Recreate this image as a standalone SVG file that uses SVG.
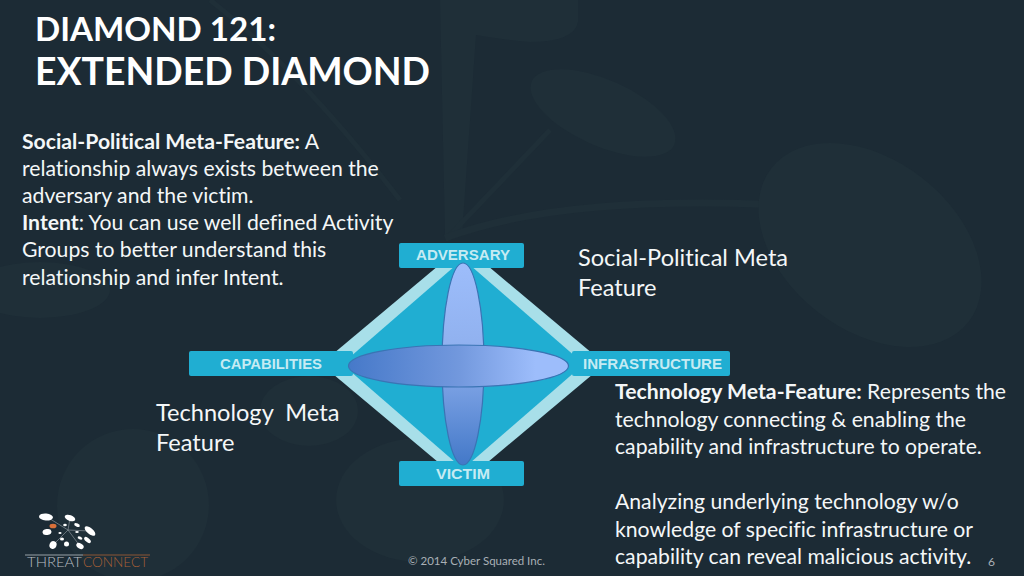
<svg xmlns="http://www.w3.org/2000/svg" width="1024" height="576" viewBox="0 0 1024 576">
<style>
.t{font-family:Lato,"Liberation Sans",sans-serif;font-size:21.2px;fill:#f4f7f8;font-variant-ligatures:none;white-space:pre}
.m{font-size:23.6px}
.b{font-weight:700}
.h{font-family:Lato,"Liberation Sans",sans-serif;font-weight:700;fill:#fff}
.box{fill:#20aed2}
.l{font-family:"Liberation Sans",Arial,sans-serif;font-size:15.5px;fill:#c6ebf3;font-weight:700}
.p{fill:#1f2f38}
.s{fill:none;stroke:#1f2f38}
.e{stroke:#3a74b4;stroke-width:1.2}
</style>
<defs>
<linearGradient id="gv" x1="0" y1="0" x2="0" y2="1"><stop offset="0" stop-color="#9dbdfb"/><stop offset=".45" stop-color="#8fb0ee"/><stop offset="1" stop-color="#4378c8"/></linearGradient>
<linearGradient id="gh" x1="0" y1="0" x2="1" y2="0"><stop offset="0" stop-color="#4679c9"/><stop offset=".5" stop-color="#7298dd"/><stop offset=".85" stop-color="#9dbdfb"/><stop offset="1" stop-color="#9dbdfb"/></linearGradient>
</defs>
<rect id="background" width="1024" height="576" fill="#1c2b35"/>
<g id="bg-petals">
<path class="p" d="M440 0H578V22Q574 42 530 42Q490 38 476 35L462 235H445Z"/>
<ellipse class="p" cx="603" cy="113" rx="78" ry="33" transform="rotate(24 603 113)"/>
<path class="s" d="M450 235L550 130" stroke-width="5"/>
<path class="s" d="M445 238Q560 195 780 205" stroke-width="7"/>
<ellipse class="p" cx="870" cy="245" rx="125" ry="85" transform="rotate(38 870 245)"/>
<ellipse class="p" cx="133" cy="505" rx="76" ry="76"/>
<ellipse class="p" cx="309" cy="411" rx="49" ry="35"/>
<ellipse class="p" cx="420" cy="500" rx="84" ry="62"/>
<ellipse class="p" cx="40" cy="290" rx="70" ry="28"/>
<path class="s" d="M210 0Q300 70 400 200" stroke-width="5"/>
</g>
<g id="title">
<text class="h" x="35" y="41" font-size="33" textLength="241" lengthAdjust="spacingAndGlyphs">DIAMOND 121:</text>
<text class="h" x="35" y="85" font-size="39" textLength="395" lengthAdjust="spacingAndGlyphs">EXTENDED DIAMOND</text>
</g>
<g id="connectors">
<polygon points="463,245 321,364 463,483 605,364" fill="#a8dfe9"/>
<polygon points="463,259 342,364 463,469 584,364" fill="#20aed2"/>
</g>
<g id="adversary"><rect class="box" x="399" y="243" width="125" height="25" rx="2"/><text class="l" x="416" y="260" textLength="94" lengthAdjust="spacingAndGlyphs">ADVERSARY</text></g>
<g id="capabilities"><rect class="box" x="189" y="351" width="164" height="25" rx="2"/><text class="l" x="220" y="369" textLength="102" lengthAdjust="spacingAndGlyphs">CAPABILITIES</text></g>
<g id="infrastructure"><rect class="box" x="572" y="351" width="158" height="25" rx="2"/><text class="l" x="583" y="369" textLength="139" lengthAdjust="spacingAndGlyphs">INFRASTRUCTURE</text></g>
<g id="victim"><rect class="box" x="399" y="461" width="125" height="25" rx="2"/><text class="l" x="436" y="479" textLength="54" lengthAdjust="spacingAndGlyphs">VICTIM</text></g>
<g id="social-political-ellipse"><ellipse class="e" cx="463" cy="364" rx="21" ry="101" fill="url(#gv)"/></g>
<g id="technology-ellipse"><ellipse class="e" cx="458.500" cy="366" rx="110" ry="21" fill="url(#gh)"/></g>
<g id="left-text">
<text class="t" x="22" y="149"><tspan class="b">Social-Political Meta-Feature:</tspan> A</text>
<text class="t" x="22" y="176">relationship always exists between the</text>
<text class="t" x="22" y="203">adversary and the victim.</text>
<text class="t" x="22" y="230"><tspan class="b">Intent</tspan>: You can use well defined Activity</text>
<text class="t" x="22" y="257">Groups to better understand this</text>
<text class="t" x="22" y="285">relationship and infer Intent.</text>
</g>
<g id="social-label">
<text class="t m" x="578" y="266">Social-Political Meta</text>
<text class="t m" x="578" y="296">Feature</text>
</g>
<g id="technology-label">
<text class="t m" x="156" y="421">Technology  Meta</text>
<text class="t m" x="156" y="451">Feature</text>
</g>
<g id="right-text">
<text class="t" x="615" y="399"><tspan class="b">Technology Meta-Feature:</tspan> Represents the</text>
<text class="t" x="615" y="427">technology connecting &amp; enabling the</text>
<text class="t" x="615" y="454">capability and infrastructure to operate.</text>
<text class="t" x="615" y="509">Analyzing underlying technology w/o</text>
<text class="t" x="615" y="537">knowledge of specific infrastructure or</text>
<text class="t" x="615" y="564">capability can reveal malicious activity.</text>
</g>
<g id="logo">
<g stroke="#8a9299" stroke-width=".7"><line x1="68" y1="530" x2="47" y2="517"/><line x1="68" y1="530" x2="90" y2="531"/><line x1="68" y1="530" x2="53" y2="545"/><line x1="68" y1="530" x2="80" y2="546"/><line x1="68" y1="530" x2="70" y2="518"/></g>
<g fill="#fff">
<ellipse cx="46" cy="517" rx="7" ry="3.500" transform="rotate(5 46 517)"/>
<ellipse cx="70" cy="518" rx="5.500" ry="2.800" transform="rotate(20 70 518)"/>
<ellipse cx="77" cy="525" rx="3" ry="1.700" transform="rotate(25 77 525)"/>
<ellipse cx="90" cy="531" rx="6.500" ry="3" transform="rotate(40 90 531)"/>
<ellipse cx="47" cy="532" rx="4.500" ry="3" transform="rotate(-10 47 532)"/>
<ellipse cx="53" cy="545" rx="3.500" ry="4" transform="rotate(20 53 545)"/>
<ellipse cx="66.500" cy="544" rx="2.500" ry="2.500"/>
<ellipse cx="80" cy="546" rx="4" ry="2.500" transform="rotate(30 80 546)"/>
<ellipse cx="87.500" cy="540" rx="4" ry="2" transform="rotate(40 87.500 540)"/>
<ellipse cx="62" cy="539" rx="2" ry="1.500"/>
<ellipse cx="80" cy="538" rx="2.500" ry="1.500" transform="rotate(25 80 538)"/>
<ellipse cx="65" cy="525" rx="1.800" ry="1.200"/>
<ellipse cx="60" cy="533" rx="1.600" ry="1"/>
<ellipse cx="77" cy="532" rx="1.800" ry="1"/>
</g>
<ellipse cx="53" cy="526" rx="3.500" ry="2.300" fill="#d9703a"/>
<path d="M25 555H83" stroke="#b9bfc4" stroke-width=".8"/><path d="M83 555H150" stroke="#a85f36" stroke-width=".8"/>
<text x="27" y="567" font-family="Lato,'Liberation Sans',sans-serif" font-weight="300" font-size="14" fill="#b9bfc4" textLength="55" lengthAdjust="spacingAndGlyphs">THREAT</text>
<text x="83" y="567" font-family="Lato,'Liberation Sans',sans-serif" font-weight="300" font-size="14" fill="#a85f36" textLength="65" lengthAdjust="spacingAndGlyphs">CONNECT</text>
</g>
<g id="footer">
<text x="408" y="565" font-family="Lato,'Liberation Sans',sans-serif" font-size="11.500" fill="#a9b0b6">© 2014 Cyber Squared Inc.</text>
<text x="988" y="566" font-family="Lato,'Liberation Sans',sans-serif" font-size="12" fill="#a9b0b6">6</text>
</g>
</svg>
